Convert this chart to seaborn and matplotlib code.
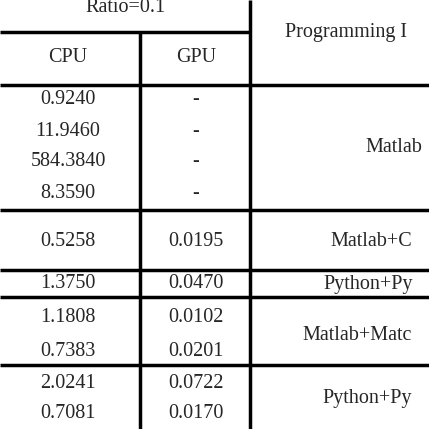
import matplotlib
matplotlib.use("Agg")
import matplotlib.pyplot as plt
import seaborn as sns

sns.set_theme(style="white")
plt.rcParams['font.family'] = ['Liberation Serif', 'DejaVu Serif']

cpu = ["0.9240", "11.9460", "584.3840", "8.3590", "0.5258", "1.3750", "1.1808", "0.7383", "2.0241", "0.7081"]
gpu = ["-", "-", "-", "-", "0.0195", "0.0470", "0.0102", "0.0201", "0.0722", "0.0170"]
row_y = [100, 131, 162, 194, 241, 284, 318, 351, 383, 414]
envs = ["Matlab", "Matlab+C", "Python+Py", "Matlab+Matc", "Python+Py"]
env_y = [147, 241, 284, 335, 399]
env_x = [365, 330, 323, 302, 322]
sep_y = [85, 210, 270, 297, 365]

fig = plt.figure(figsize=(4.29, 4.29), dpi=100)
ax = fig.add_axes([0, 0, 1, 1])
ax.set_xlim(0, 429)
ax.set_ylim(429, 0)
ax.axis("off")

fs = 14.5
ax.text(125, 8, "Ratio=0.1", ha="center", va="center", fontsize=fs)
ax.text(285, 33, "Programming I", ha="left", va="center", fontsize=fs, clip_on=True)
ax.text(68, 58, "CPU", ha="center", va="center", fontsize=fs)
ax.text(196, 58, "GPU", ha="center", va="center", fontsize=fs)
for c, g, y in zip(cpu, gpu, row_y):
    ax.text(68, y, c, ha="center", va="center", fontsize=fs)
    ax.text(196, y, g, ha="center", va="center", fontsize=fs)
for e, y, x in zip(envs, env_y, env_x):
    ax.text(x, y, e, ha="left", va="center", fontsize=fs, clip_on=True)

lw = 2.5
ax.hlines(32, 0, 250, color="black", lw=lw)
ax.hlines(sep_y, 0, 429, color="black", lw=lw)
ax.vlines(140, 32, 429, color="black", lw=lw)
ax.vlines(250, 0, 429, color="black", lw=lw)

fig.savefig("out.png", dpi=100)
